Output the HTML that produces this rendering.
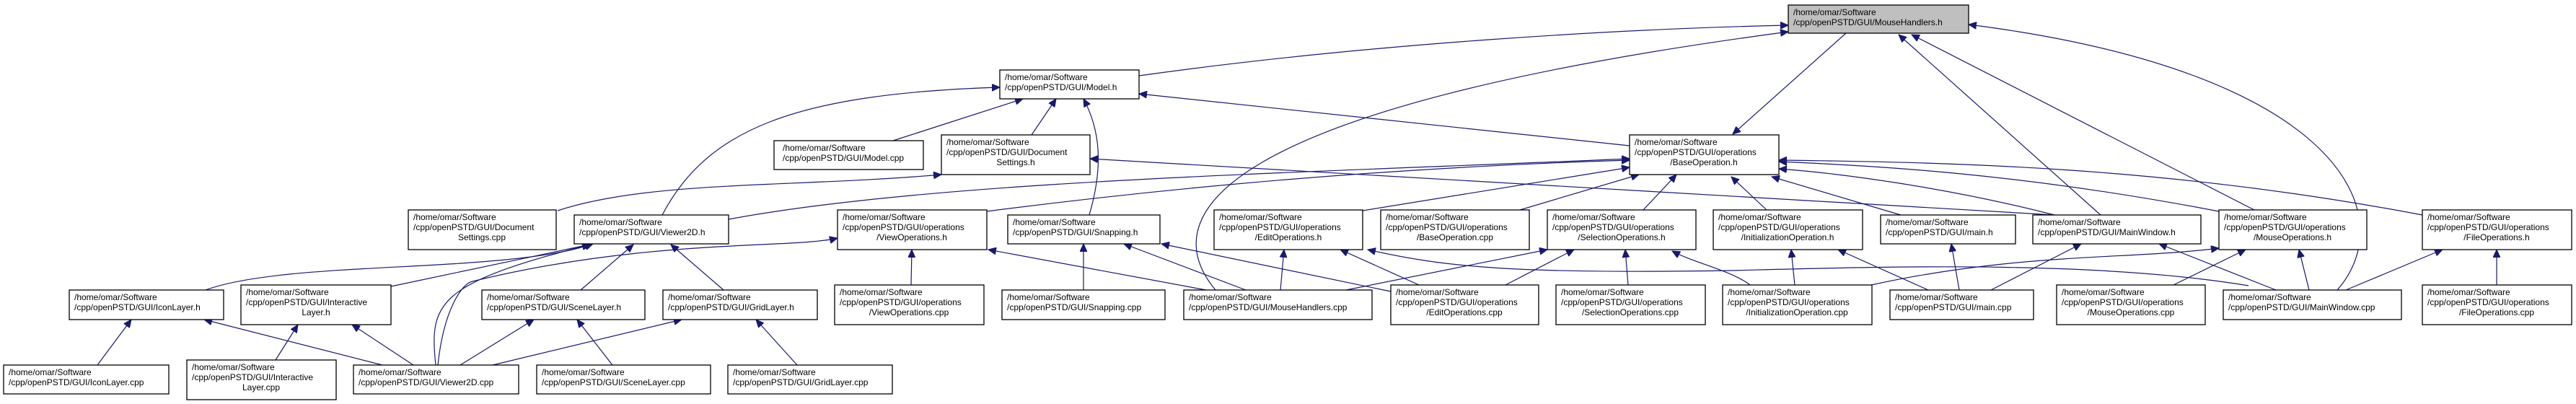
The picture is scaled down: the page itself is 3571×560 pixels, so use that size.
<!DOCTYPE html>
<html><head><meta charset="utf-8"><style>
html,body{margin:0;padding:0;background:#fff;}
svg{display:block;}
text{font-family:"Liberation Sans",sans-serif;font-size:12px;fill:#000;}
.b{fill:#fff;stroke:#000;stroke-width:1.3;}
.g{fill:#bfbfbf;stroke:#000;stroke-width:1.3;}
.e{fill:none;stroke:#191970;stroke-width:1.2;}
</style></head><body>
<svg width="3571" height="560" viewBox="0 0 3571 560" xmlns="http://www.w3.org/2000/svg">
<defs><marker id="a" markerUnits="userSpaceOnUse" markerWidth="12" markerHeight="10" refX="11" refY="5" orient="auto"><path d="M0,0 L11,5 L0,10 z" fill="#191970" stroke="#191970"/></marker></defs>
<g marker-end="url(#a)">
<path class="e" d="M1579,105 C1900,60 2250,40 2479,35"/>
<path class="e" d="M1685,402 C1600,300 1680,150 2479,44"/>
<path class="e" d="M2559,46 L2402,186"/>
<path class="e" d="M2912,298 L2632,48"/>
<path class="e" d="M3125,291 L2650,48"/>
<path class="e" d="M3240,402 C3330,300 3250,100 2729,34"/>
<path class="e" d="M918,298 C980,180 1100,130 1386,121"/>
<path class="e" d="M1238,195 L1418,137"/>
<path class="e" d="M1430,187 L1464,137"/>
<path class="e" d="M1510,298 C1530,230 1525,180 1502,137"/>
<path class="e" d="M2259,202 L1579,130"/>
<path class="e" d="M773,292 C900,250 1100,260 1305,242"/>
<path class="e" d="M2848,298 L1511,220"/>
<path class="e" d="M1010,304 C1300,250 1800,240 2259,220"/>
<path class="e" d="M1368,293 C1700,250 2000,230 2259,222"/>
<path class="e" d="M1889,292 L2259,232"/>
<path class="e" d="M2107,291 L2272,242"/>
<path class="e" d="M2278,291 L2324,242"/>
<path class="e" d="M2449,291 L2400,245"/>
<path class="e" d="M2635,298 L2456,245"/>
<path class="e" d="M2848,298 C2700,260 2550,240 2466,234"/>
<path class="e" d="M3076,293 C2800,240 2600,230 2466,224"/>
<path class="e" d="M3358,298 C3000,230 2700,225 2466,222"/>
<path class="e" d="M3117,396 C2900,360 2600,370 2400,375 C2100,380 2000,370 1896,346"/>
<path class="e" d="M285,402 C400,360 700,380 822,338"/>
<path class="e" d="M542,397 L822,338"/>
<path class="e" d="M604,506 C595,420 605,393 818,339"/>
<path class="e" d="M805,402 L878,339"/>
<path class="e" d="M1003,402 L930,339"/>
<path class="e" d="M607,506 C615,430 640,393 655,390 C900,330 1100,345 1161,330"/>
<path class="e" d="M135,506 L182,443"/>
<path class="e" d="M530,506 L283,443"/>
<path class="e" d="M382,499 L413,450"/>
<path class="e" d="M573,506 L488,450"/>
<path class="e" d="M638,506 L740,443"/>
<path class="e" d="M849,506 L800,443"/>
<path class="e" d="M683,506 L945,443"/>
<path class="e" d="M1105,506 L1048,443"/>
<path class="e" d="M1263,395 L1264,346"/>
<path class="e" d="M1672,402 L1370,346"/>
<path class="e" d="M1502,402 L1502,338"/>
<path class="e" d="M1727,402 L1558,338"/>
<path class="e" d="M1928,404 L1610,338"/>
<path class="e" d="M1775,402 L1780,346"/>
<path class="e" d="M1967,395 L1858,346"/>
<path class="e" d="M1866,402 L2145,346"/>
<path class="e" d="M2087,395 L2182,346"/>
<path class="e" d="M2257,395 L2253,346"/>
<path class="e" d="M2426,395 C2400,375 2350,365 2318,348"/>
<path class="e" d="M2488,395 L2483,346"/>
<path class="e" d="M2673,402 L2548,346"/>
<path class="e" d="M2716,402 L2705,338"/>
<path class="e" d="M2760,402 L2885,338"/>
<path class="e" d="M3155,402 L2993,338"/>
<path class="e" d="M2594,395 C2800,350 2950,360 3076,344"/>
<path class="e" d="M3013,395 L3113,346"/>
<path class="e" d="M3201,402 L3187,346"/>
<path class="e" d="M3252,402 L3386,346"/>
<path class="e" d="M3461,395 L3461,346"/>
</g>
<g>
<rect class="g" x="2479" y="7" width="250" height="39"/><text x="2486" y="21">/home/omar/Software</text><text x="2486" y="35">/cpp/openPSTD/GUI/MouseHandlers.h</text>
<rect class="b" x="1386" y="97" width="193" height="40"/><text x="1393" y="111">/home/omar/Software</text><text x="1393" y="125">/cpp/openPSTD/GUI/Model.h</text>
<rect class="b" x="1073" y="195" width="207" height="40"/><text x="1085" y="209">/home/omar/Software</text><text x="1085" y="223">/cpp/openPSTD/GUI/Model.cpp</text>
<rect class="b" x="1305" y="187" width="206" height="55"/><text x="1312" y="201">/home/omar/Software</text><text x="1312" y="215">/cpp/openPSTD/GUI/Document</text><text x="1408" y="229" text-anchor="middle">Settings.h</text>
<rect class="b" x="2259" y="187" width="207" height="55"/><text x="2266" y="201">/home/omar/Software</text><text x="2266" y="215">/cpp/openPSTD/GUI/operations</text><text x="2362" y="229" text-anchor="middle">/BaseOperation.h</text>
<rect class="b" x="566" y="291" width="205" height="55"/><text x="573" y="305">/home/omar/Software</text><text x="573" y="319">/cpp/openPSTD/GUI/Document</text><text x="668" y="333" text-anchor="middle">Settings.cpp</text>
<rect class="b" x="796" y="298" width="214" height="40"/><text x="803" y="312">/home/omar/Software</text><text x="803" y="326">/cpp/openPSTD/GUI/Viewer2D.h</text>
<rect class="b" x="1161" y="291" width="207" height="55"/><text x="1168" y="305">/home/omar/Software</text><text x="1168" y="319">/cpp/openPSTD/GUI/operations</text><text x="1264" y="333" text-anchor="middle">/ViewOperations.h</text>
<rect class="b" x="1397" y="298" width="211" height="40"/><text x="1404" y="312">/home/omar/Software</text><text x="1404" y="326">/cpp/openPSTD/GUI/Snapping.h</text>
<rect class="b" x="1683" y="291" width="206" height="55"/><text x="1690" y="305">/home/omar/Software</text><text x="1690" y="319">/cpp/openPSTD/GUI/operations</text><text x="1786" y="333" text-anchor="middle">/EditOperations.h</text>
<rect class="b" x="1914" y="291" width="206" height="55"/><text x="1921" y="305">/home/omar/Software</text><text x="1921" y="319">/cpp/openPSTD/GUI/operations</text><text x="2017" y="333" text-anchor="middle">/BaseOperation.cpp</text>
<rect class="b" x="2145" y="291" width="206" height="55"/><text x="2152" y="305">/home/omar/Software</text><text x="2152" y="319">/cpp/openPSTD/GUI/operations</text><text x="2248" y="333" text-anchor="middle">/SelectionOperations.h</text>
<rect class="b" x="2375" y="291" width="207" height="55"/><text x="2382" y="305">/home/omar/Software</text><text x="2382" y="319">/cpp/openPSTD/GUI/operations</text><text x="2478" y="333" text-anchor="middle">/InitializationOperation.h</text>
<rect class="b" x="2607" y="298" width="187" height="40"/><text x="2614" y="312">/home/omar/Software</text><text x="2614" y="326">/cpp/openPSTD/GUI/main.h</text>
<rect class="b" x="2818" y="298" width="233" height="40"/><text x="2825" y="312">/home/omar/Software</text><text x="2825" y="326">/cpp/openPSTD/GUI/MainWindow.h</text>
<rect class="b" x="3076" y="291" width="205" height="55"/><text x="3083" y="305">/home/omar/Software</text><text x="3083" y="319">/cpp/openPSTD/GUI/operations</text><text x="3178" y="333" text-anchor="middle">/MouseOperations.h</text>
<rect class="b" x="3358" y="291" width="207" height="55"/><text x="3365" y="305">/home/omar/Software</text><text x="3365" y="319">/cpp/openPSTD/GUI/operations</text><text x="3461" y="333" text-anchor="middle">/FileOperations.h</text>
<rect class="b" x="96" y="402" width="214" height="41"/><text x="103" y="416">/home/omar/Software</text><text x="103" y="430">/cpp/openPSTD/GUI/IconLayer.h</text>
<rect class="b" x="334" y="395" width="208" height="55"/><text x="341" y="409">/home/omar/Software</text><text x="341" y="423">/cpp/openPSTD/GUI/Interactive</text><text x="438" y="437" text-anchor="middle">Layer.h</text>
<rect class="b" x="668" y="402" width="226" height="41"/><text x="675" y="416">/home/omar/Software</text><text x="675" y="430">/cpp/openPSTD/GUI/SceneLayer.h</text>
<rect class="b" x="919" y="402" width="214" height="41"/><text x="926" y="416">/home/omar/Software</text><text x="926" y="430">/cpp/openPSTD/GUI/GridLayer.h</text>
<rect class="b" x="1157" y="395" width="207" height="55"/><text x="1164" y="409">/home/omar/Software</text><text x="1164" y="423">/cpp/openPSTD/GUI/operations</text><text x="1260" y="437" text-anchor="middle">/ViewOperations.cpp</text>
<rect class="b" x="1389" y="402" width="226" height="41"/><text x="1396" y="416">/home/omar/Software</text><text x="1396" y="430">/cpp/openPSTD/GUI/Snapping.cpp</text>
<rect class="b" x="1641" y="402" width="261" height="41"/><text x="1648" y="416">/home/omar/Software</text><text x="1648" y="430">/cpp/openPSTD/GUI/MouseHandlers.cpp</text>
<rect class="b" x="1928" y="395" width="205" height="55"/><text x="1935" y="409">/home/omar/Software</text><text x="1935" y="423">/cpp/openPSTD/GUI/operations</text><text x="2030" y="437" text-anchor="middle">/EditOperations.cpp</text>
<rect class="b" x="2157" y="395" width="207" height="55"/><text x="2164" y="409">/home/omar/Software</text><text x="2164" y="423">/cpp/openPSTD/GUI/operations</text><text x="2260" y="437" text-anchor="middle">/SelectionOperations.cpp</text>
<rect class="b" x="2388" y="395" width="207" height="55"/><text x="2395" y="409">/home/omar/Software</text><text x="2395" y="423">/cpp/openPSTD/GUI/operations</text><text x="2491" y="437" text-anchor="middle">/InitializationOperation.cpp</text>
<rect class="b" x="2620" y="402" width="199" height="41"/><text x="2627" y="416">/home/omar/Software</text><text x="2627" y="430">/cpp/openPSTD/GUI/main.cpp</text>
<rect class="b" x="2851" y="395" width="206" height="55"/><text x="2858" y="409">/home/omar/Software</text><text x="2858" y="423">/cpp/openPSTD/GUI/operations</text><text x="2954" y="437" text-anchor="middle">/MouseOperations.cpp</text>
<rect class="b" x="3082" y="402" width="247" height="41"/><text x="3089" y="416">/home/omar/Software</text><text x="3089" y="430">/cpp/openPSTD/GUI/MainWindow.cpp</text>
<rect class="b" x="3358" y="395" width="207" height="55"/><text x="3365" y="409">/home/omar/Software</text><text x="3365" y="423">/cpp/openPSTD/GUI/operations</text><text x="3461" y="437" text-anchor="middle">/FileOperations.cpp</text>
<rect class="b" x="5" y="506" width="229" height="40"/><text x="12" y="520">/home/omar/Software</text><text x="12" y="534">/cpp/openPSTD/GUI/IconLayer.cpp</text>
<rect class="b" x="259" y="499" width="207" height="55"/><text x="266" y="513">/home/omar/Software</text><text x="266" y="527">/cpp/openPSTD/GUI/Interactive</text><text x="362" y="541" text-anchor="middle">Layer.cpp</text>
<rect class="b" x="490" y="506" width="229" height="40"/><text x="497" y="520">/home/omar/Software</text><text x="497" y="534">/cpp/openPSTD/GUI/Viewer2D.cpp</text>
<rect class="b" x="744" y="506" width="241" height="40"/><text x="751" y="520">/home/omar/Software</text><text x="751" y="534">/cpp/openPSTD/GUI/SceneLayer.cpp</text>
<rect class="b" x="1009" y="506" width="228" height="40"/><text x="1016" y="520">/home/omar/Software</text><text x="1016" y="534">/cpp/openPSTD/GUI/GridLayer.cpp</text>
</g>
</svg>
</body></html>
